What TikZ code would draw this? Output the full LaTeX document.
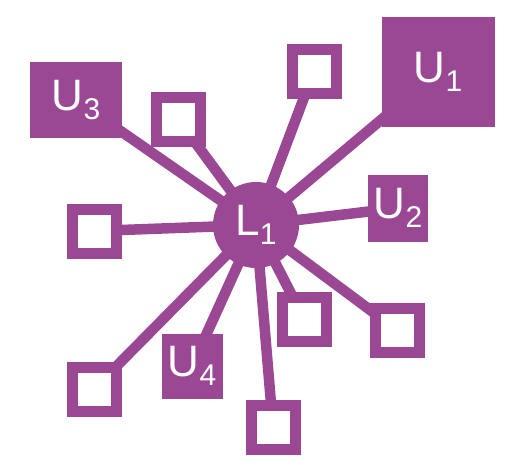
\documentclass[tikz,border=0pt]{standalone}
\usepackage{fontspec}
\setmainfont{Liberation Sans}
\usetikzlibrary{backgrounds}
\definecolor{plum}{RGB}{155,72,148}
\newcommand{\sublab}[2]{#1\raisebox{-9pt}{\fontsize{30}{30}\selectfont#2}}

\begin{document}
\begin{tikzpicture}[x=1pt,y=-1pt]
      \tikzset{hub/.style={circle,fill=plum,minimum size=86pt,inner sep=0pt,text=white,font=\fontsize{44}{44}\selectfont},
        leaf/.style={draw=plum,line width=11pt,fill=white,minimum size=44pt,inner sep=0pt},
        user/.style={fill=plum,inner sep=0pt,text=white,font=\fontsize{44}{44}\selectfont},
        link/.style={draw=plum,line width=10.5pt}}
      \useasboundingbox (0,0) rectangle (512,467);
      \node[hub] (l1) at (256,225) {\sublab{L}{1}};
      \node[user,minimum width=113pt,minimum height=110pt] (u1) at (438,72) {\sublab{U}{1}};
      \node[user,minimum width=60pt,minimum height=67pt] (u2) at (398,208) {\sublab{U}{2}};
      \node[user,minimum width=92pt,minimum height=76pt] (u3) at (76,100) {\sublab{U}{3}};
      \node[user,minimum width=61pt,minimum height=65pt] (u4) at (192,366) {\sublab{U}{4}};
      \node[leaf] (top) at (314,71) {};
      \node[leaf] (nw) at (178,119) {};
      \node[leaf] (west) at (94,231) {};
      \node[leaf] (sw) at (94,389) {};
      \node[leaf] (south) at (273,427) {};
      \node[leaf] (mid) at (304,319) {};
      \node[leaf] (east) at (397,330) {};
      \begin{scope}[on background layer]
        \foreach \n in {u1,u2,u3,u4,top,nw,west,sw,south,mid,east}
          \draw[link] (l1.center) -- (\n.center);
      \end{scope}
\end{tikzpicture}
\end{document}
